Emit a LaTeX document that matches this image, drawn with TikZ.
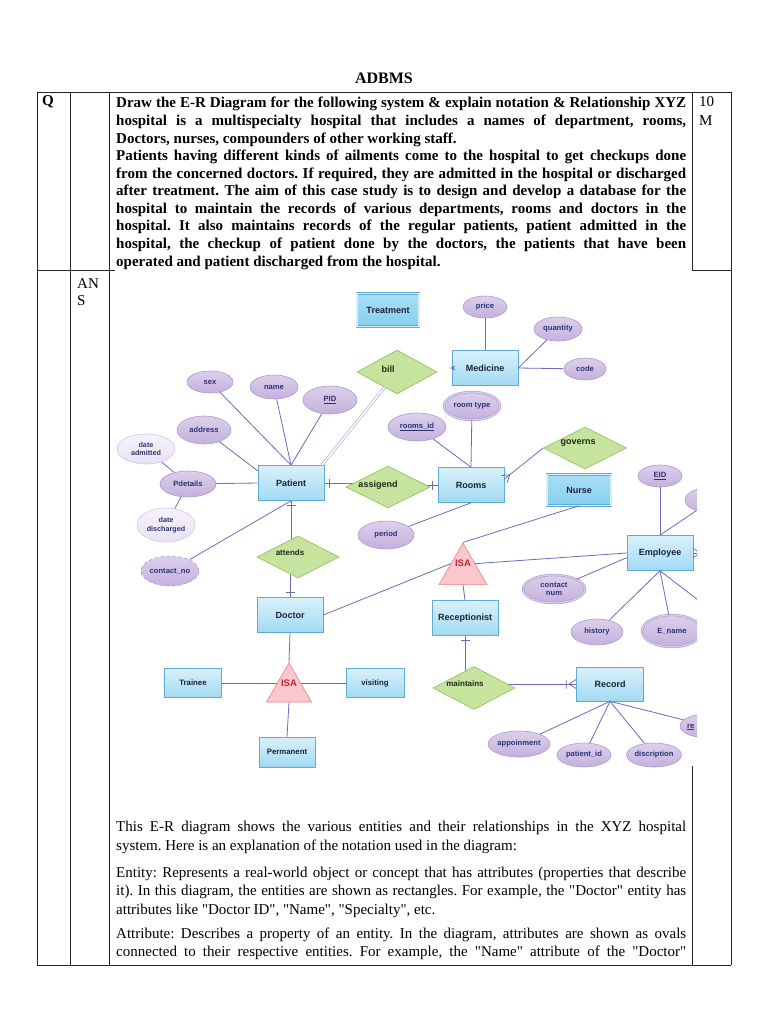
\documentclass[tikz,border=0pt]{standalone}
\usepackage{fontspec}
\setmainfont{Liberation Serif}
\newfontfamily\rawserif{Liberation Serif}
\newfontfamily\dsans{Liberation Sans}
\usetikzlibrary{shapes.geometric,arrows.meta,decorations.markings,backgrounds}
\frenchspacing

\definecolor{lnc}{HTML}{6E6ABF}
\definecolor{dblc}{HTML}{A9A6D6}
\definecolor{entb}{HTML}{5FABD5}
\definecolor{entt}{HTML}{D8F1FB}
\definecolor{entbt}{HTML}{A2DAF2}
\definecolor{wentt}{HTML}{A9DEF6}
\definecolor{wentb}{HTML}{86CFEF}
\definecolor{wentd}{HTML}{D5F0FB}
\definecolor{etxt}{HTML}{1B2238}
\definecolor{attb}{HTML}{AE9ACF}
\definecolor{attt}{HTML}{DCD0EC}
\definecolor{attbt}{HTML}{C4B0DD}
\definecolor{atxt}{HTML}{2C3378}
\definecolor{lattt}{HTML}{F6F2FA}
\definecolor{lattbt}{HTML}{EAE1F3}
\definecolor{lattb}{HTML}{D3C6E6}
\definecolor{relb}{HTML}{8EBF5B}
\definecolor{relf}{HTML}{C6E49D}
\definecolor{rtxt}{HTML}{1F2A1A}
\definecolor{isab}{HTML}{E5838D}
\definecolor{isaf}{HTML}{F9C7CC}
\definecolor{isat}{HTML}{C4232E}
\definecolor{tline}{HTML}{262626}

\newcommand{\jline}[3]{\node[anchor=base west, inner sep=0pt] (#1) at (116,#2) {\makebox[570pt][s]{#3}};}
\newcommand{\pline}[3]{\node[anchor=base west, inner sep=0pt] (#1) at (116,#2) {#3};}

\begin{document}
\begin{tikzpicture}[x=1pt,y=-1pt,
  tl/.style={draw=tline, line width=0.9pt},
  conn/.style={draw=lnc, line width=0.8pt},
  dbl/.style={draw=dblc, double=white, double distance=1.6pt, line width=0.6pt},
  ent/.style={rectangle, draw=entb, line width=0.6pt, top color=entt, bottom color=entbt, inner sep=0pt, text=etxt, font=\dsans\bfseries\fontsize{9}{10}\selectfont},
  sent/.style={ent, font=\dsans\bfseries\fontsize{7.8}{9}\selectfont},
  went/.style={ent, double=wentd, double distance=1.6pt, top color=wentt, bottom color=wentb},
  attr/.style={ellipse, draw=attb, line width=0.6pt, top color=attt, bottom color=attbt, inner sep=0pt, text=atxt, align=center, font=\dsans\bfseries\fontsize{7.6}{8.6}\selectfont},
  lattr/.style={attr, draw=lattb, top color=lattt, bottom color=lattbt, font=\dsans\bfseries\fontsize{7.2}{8.6}\selectfont},
  dattr/.style={attr, double=attt, double distance=1.2pt},
  rel/.style={diamond, draw=relb, fill=relf, line width=0.6pt, inner sep=0pt},
  reltxt/.style={inner sep=0pt, text=rtxt, font=\dsans\bfseries\fontsize{9}{10}\selectfont},
  sreltxt/.style={reltxt, font=\dsans\bfseries\fontsize{8}{9}\selectfont},
  isa/.style={regular polygon, regular polygon sides=3, draw=isab, fill=isaf, line width=0.6pt, inner sep=0pt},
  isatxt/.style={inner sep=0pt, text=isat, font=\dsans\bfseries\fontsize{9.5}{10}\selectfont},
  tickat/.style={postaction={decorate,decoration={markings,mark=at position #1 with {\draw[lnc,line width=0.8pt] (0pt,-4.5pt) -- (0pt,4.5pt);}}}},
  crowend/.style={postaction={decorate,decoration={markings,mark=at position -0.01pt with {\draw[lnc,line width=0.8pt] (0pt,4.5pt) -- (-7pt,0pt) -- (0pt,-4.5pt) (-10pt,-4.5pt) -- (-10pt,4.5pt);}}}},
  crowstart/.style={postaction={decorate,decoration={markings,mark=at position 0.01pt with {\draw[lnc,line width=0.8pt] (0pt,4.5pt) -- (7pt,0pt) -- (0pt,-4.5pt);}}}}
]
\useasboundingbox (0,0) rectangle (768,1024);

% ---------- header and table ----------
\node[anchor=base, inner sep=0pt, font=\bfseries\fontsize{16}{18}\selectfont] (title) at (384,84) {ADBMS};
\draw[tl] (37,92) -- (731,92);
\draw[tl] (37,92) -- (37,965);
\draw[tl] (70,92) -- (70,965);
\draw[tl] (109,92) -- (109,965);
\draw[tl] (692,92) -- (692,270);
\draw[tl] (692,766) -- (692,965);
\draw[tl] (731,92) -- (731,965);
\draw[tl] (37,270) -- (115,270);
\draw[tl] (692,270) -- (731,270);
\draw[tl] (37,965) -- (731,965);

\node[anchor=base west, inner sep=0pt, font=\bfseries\fontsize{15}{17}\selectfont] (qlab) at (42,106) {Q};
\node[anchor=base west, inner sep=0pt, font=\fontsize{15}{17}\selectfont] (marks1) at (699,107) {10};
\node[anchor=base west, inner sep=0pt, font=\fontsize{15}{17}\selectfont] (marks2) at (699,126) {M};
\node[anchor=base west, inner sep=0pt, font=\fontsize{15}{17}\selectfont] (ans1) at (77,288) {AN};
\node[anchor=base west, inner sep=0pt, font=\fontsize{15}{17}\selectfont] (ans2) at (77,305) {S};

\begin{scope}[font=\bfseries\fontsize{15}{17}\selectfont]
\jline{q1}{108}{Draw the E-R Diagram for the following system \& explain notation \& Relationship XYZ}
\jline{q2}{125.6}{hospital is a multispecialty hospital that includes a names of department, rooms,}
\pline{q3}{143.1}{Doctors, nurses, compounders of other working staff.}
\jline{q4}{160.7}{Patients having different kinds of ailments come to the hospital to get checkups done}
\jline{q5}{178.2}{from the concerned doctors. If required, they are admitted in the hospital or discharged}
\jline{q6}{195.8}{after treatment. The aim of this case study is to design and develop a database for the}
\jline{q7}{213.4}{hospital to maintain the records of various departments, rooms and doctors in the}
\jline{q8}{230.9}{hospital. It also maintains records of the regular patients, patient admitted in the}
\jline{q9}{248.5}{hospital, the checkup of patient done by the doctors, the patients that have been}
\pline{q10}{266}{operated and patient discharged from the hospital.}
\end{scope}

\begin{scope}[font=\rawserif\fontsize{15}{17}\selectfont]
\jline{t1}{831}{This E-R diagram shows the various entities and their relationships in the XYZ hospital}
\pline{t2}{850}{system. Here is an explanation of the notation used in the diagram:}
\jline{t3}{877}{Entity: Represents a real-world object or concept that has attributes (properties that describe}
\jline{t4}{895}{it). In this diagram, the entities are shown as rectangles. For example, the "Doctor" entity has}
\pline{t5}{914}{attributes like "Doctor ID", "Name", "Specialty", etc.}
\jline{t6}{938}{Attribute: Describes a property of an entity. In the diagram, attributes are shown as ovals}
\jline{t7}{956}{connected to their respective entities. For example, the "Name" attribute of the "Doctor"}
\end{scope}

% ---------- diagram ----------
\begin{scope}
\clip (115,271) rectangle (697,767);

% entities
\node[went, minimum width=62pt, minimum height=33pt] (treat) at (388,310) {Treatment};
\node[ent, minimum width=66pt, minimum height=35pt] (med) at (485,368) {Medicine};
\node[ent, minimum width=66pt, minimum height=35pt] (patient) at (291,483) {Patient};
\node[ent, minimum width=66pt, minimum height=35pt] (rooms) at (471,485) {Rooms};
\node[went, minimum width=64pt, minimum height=31pt] (nurse) at (579,490) {Nurse};
\node[ent, minimum width=66pt, minimum height=35pt] (emp) at (660,553) {Employee};
\node[ent, minimum width=66pt, minimum height=35pt] (doctor) at (290,615) {Doctor};
\node[ent, minimum width=66pt, minimum height=35pt] (recep) at (465,618) {Receptionist};
\node[ent, minimum width=67pt, minimum height=34pt] (record) at (610,684) {Record};
\node[sent, minimum width=57pt, minimum height=29pt] (trainee) at (193,683) {Trainee};
\node[sent, minimum width=58pt, minimum height=29pt] (visiting) at (375,683) {visiting};
\node[sent, minimum width=56pt, minimum height=30pt] (perm) at (287,752) {Permanent};

% relationships
\node[rel, minimum width=80pt, minimum height=44pt] (bill) at (397,372) {};
\node[reltxt] (billt) at (388,369) {bill};
\node[rel, minimum width=84pt, minimum height=42pt] (assign) at (388,487) {};
\node[reltxt] (assignt) at (378,485) {assigend};
\node[rel, minimum width=83pt, minimum height=42pt] (governs) at (585,448) {};
\node[reltxt] (governst) at (578,443) {governs};
\node[rel, minimum width=82pt, minimum height=42pt] (attends) at (298,557) {};
\node[sreltxt] (attendst) at (290,553) {attends};
\node[rel, minimum width=82pt, minimum height=43pt] (maintains) at (474,688) {};
\node[sreltxt] (maintainst) at (465,684) {maintains};

% ISA triangles
\node[isa, minimum size=55.4pt] (isa1) at (463,570.7) {};
\node[isatxt] (isa1t) at (463,563) {ISA};
\node[isa, minimum size=52pt] (isa2) at (289,689) {};
\node[isatxt] (isa2t) at (289,683) {ISA};

% attributes
\node[attr, minimum width=44pt, minimum height=22pt] (price) at (485,307) {price};
\node[attr, minimum width=48pt, minimum height=24pt] (quantity) at (558,329) {quantity};
\node[attr, minimum width=42pt, minimum height=22pt] (code) at (585,369) {code};
\node[attr, minimum width=46pt, minimum height=22pt] (sex) at (210,382) {sex};
\node[attr, minimum width=48pt, minimum height=24pt] (name) at (274,387) {name};
\node[attr, minimum width=54pt, minimum height=28pt] (pid) at (330,400) {\underline{PID}};
\node[attr, minimum width=54pt, minimum height=28pt] (address) at (204,430) {address};
\node[lattr, minimum width=58pt, minimum height=30pt] (dadm) at (146,449) {date\\admitted};
\node[attr, minimum width=56pt, minimum height=26pt] (pdet) at (188,484) {Pdetails};
\node[lattr, minimum width=58pt, minimum height=34pt] (ddis) at (166,525) {date\\discharged};
\node[attr, dashed, minimum width=58pt, minimum height=30pt] (contact) at (170,571) {contact\_no};
\node[dattr, minimum width=56pt, minimum height=28pt] (roomtype) at (472,406) {room type};
\node[attr, minimum width=58pt, minimum height=28pt] (roomsid) at (417,427) {\underline{rooms\_id}};
\node[attr, minimum width=56pt, minimum height=28pt] (period) at (386,535) {period};
\node[attr, minimum width=44pt, minimum height=22pt] (eid) at (660,476) {\underline{EID}};
\node[attr, minimum width=54pt, minimum height=26pt] (eattr) at (712,500) {};
\node[dattr, minimum width=62pt, minimum height=28pt] (cnum) at (554,589) {contact\\num};
\node[attr, minimum width=52pt, minimum height=26pt] (history) at (597,632) {history};
\node[dattr, minimum width=60pt, minimum height=32pt] (ename) at (672,631) {E\_name};
\node[attr, minimum width=62pt, minimum height=26pt] (appoint) at (519,744) {appoinment};
\node[attr, minimum width=54pt, minimum height=24pt] (patid) at (584,755) {patient\_id};
\node[attr, minimum width=54pt, minimum height=24pt] (descr) at (654,755) {discription};
\node[attr, minimum width=56pt, minimum height=24pt] (rec) at (708,726) {};
\node[anchor=west, inner sep=0pt, text=atxt, font=\dsans\bfseries\fontsize{7.6}{8.6}\selectfont] (rect) at (687,727) {\underline{re}};
\coordinate (eright) at (745,553);
\coordinate (eoff) at (715,613);

% connectors (foreground)
\draw[conn] (price) -- (med.north);
\draw[conn] (quantity) -- (med.east);
\draw[conn] (code) -- (med.east);
\draw[conn, -{Stealth[length=5pt,width=5pt]}, shorten >=13pt] (med.west) -- (med.west -| bill.east);
\draw[dbl] (patient.30) -- (bill);
\draw[conn] (sex) -- (patient.north);
\draw[conn] (name) -- (patient.north);
\draw[conn] (pid) -- (patient.north);
\draw[conn] (address) -- (patient.160);
\draw[conn] (pdet) -- (patient.west);
\draw[conn] (dadm) -- (pdet);
\draw[conn] (ddis) -- (pdet);
\draw[conn] (contact) -- (patient.south);
\draw[conn] (roomtype) -- (rooms.north);
\draw[conn] (roomsid) -- (rooms.north);
\draw[conn] (period) -- (rooms.south);
\draw[conn, crowstart] (rooms.10) -- (governs.west);
\draw[conn] (nurse.south) -- (isa1.corner 1);
\draw[conn] (doctor.east) -- (isa1.side 1);
\draw[conn] (isa1.side 3) -- (emp.west);
\draw[conn] (isa1.side 2) -- (recep.north);
\draw[conn] (eid) -- (emp.north);
\draw[conn] (eattr) -- (emp.north);
\draw[conn] (cnum) -- (emp.188);
\draw[conn] (history) -- (emp.south);
\draw[conn] (ename) -- (emp.south);
\draw[conn] (emp.south) -- (eoff);
\draw[conn, crowstart] (emp.east) -- (eright);
\draw[conn] (appoint) -- (record.south);
\draw[conn] (patid) -- (record.south);
\draw[conn] (descr) -- (record.south);
\draw[conn] (rec) -- (record.south);
\draw[conn] (doctor.south) -- (isa2.corner 1);
\draw[conn] (isa2.side 2) -- (perm.north);
\end{scope}

% connectors passing behind shapes
\begin{pgfonlayer}{background}
\fill[white] (0,0) rectangle (768,1024);
\draw[dbl] (treat.south) -- (treat.south |- bill.center);
\draw[dbl] (nurse.north) -- (nurse.north |- governs.center);
\draw[conn, tickat=5pt] (patient.east) -- (patient.east -| assign.center);
\draw[conn, tickat=-5pt] (rooms.west -| assign.center) -- (rooms.west);
\draw[conn, tickat=5pt] (patient.south) -- (patient.south |- attends.center);
\draw[conn, tickat=-5pt] (attends.center -| doctor.north) -- (doctor.north);
\draw[conn, tickat=5pt] (recep.south) -- (recep.south |- maintains.center);
\draw[conn, crowend] (record.west -| maintains.center) -- (record.west);
\draw[conn] (trainee.east) -- (trainee.east -| isa2.center);
\draw[conn] (visiting.west -| isa2.center) -- (visiting.west);
\end{pgfonlayer}
\end{tikzpicture}
\end{document}
